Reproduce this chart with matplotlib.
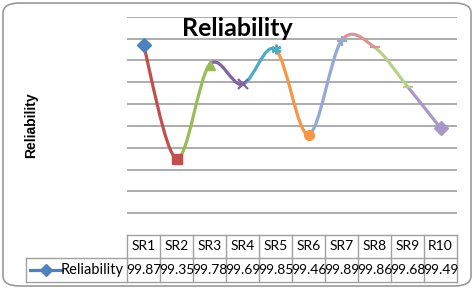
import matplotlib
matplotlib.use("Agg")
import matplotlib.pyplot as plt
from matplotlib.path import Path
from matplotlib.patches import PathPatch, FancyBboxPatch
from matplotlib.lines import Line2D

categories = ["SR1", "SR2", "SR3", "SR4", "SR5", "SR6", "SR7", "SR8", "SR9", "R10"]
reliability = [99.87, 99.35, 99.78, 99.69, 99.85, 99.46, 99.89, 99.86, 99.68, 99.49]
value_labels = ["99.87", "99.35", "99.78", "99.69", "99.85", "99.46", "99.89", "99.86", "99.68", "99.49"]

point_colors = ["#4F81BD", "#C0504D", "#9BBB59", "#8064A2", "#4BACC6",
                "#F79646", "#95A9D6", "#D99594", "#B9CF8C", "#A898C6"]
point_markers = ["D", "s", "^", "x", (6, 2, 0), "o", "+", "_", "_", "D"]

W, H = 474, 290


def fx(px):
    return px / W


def fy(py):
    return 1 - py / H


fig = plt.figure(figsize=(W / 100, H / 100), dpi=100)
fig.patch.set_facecolor("white")

# rounded chart border
fig.add_artist(FancyBboxPatch((fx(3), fy(286)), fx(468), 283 / H,
                              boxstyle="round,pad=0,rounding_size=0.035",
                              transform=fig.transFigure, facecolor="none",
                              edgecolor="#9A9A9A", linewidth=1.2))

left, right, top, bottom = 127, 457, 16.7, 235
ax = fig.add_axes([fx(left), fy(bottom), (right - left) / W, (bottom - top) / H])
ax.set_xlim(-0.5, len(categories) - 0.5)
ax.set_ylim(99.0, 100.0)
ax.axis("off")
for g in range(1, 11):
    ax.axhline(99.0 + g * 0.1, color="#A6A6A6", linewidth=1.3, zorder=1)

# smoothed line, one colour per segment (excel style)
n = len(reliability)
xs = list(range(n))
for i in range(n - 1):
    p0 = (xs[max(i - 1, 0)], reliability[max(i - 1, 0)])
    p1 = (xs[i], reliability[i])
    p2 = (xs[i + 1], reliability[i + 1])
    p3 = (xs[min(i + 2, n - 1)], reliability[min(i + 2, n - 1)])
    c1 = (p1[0] + (p2[0] - p0[0]) / 6, p1[1] + (p2[1] - p0[1]) / 6)
    c2 = (p2[0] - (p3[0] - p1[0]) / 6, p2[1] - (p3[1] - p1[1]) / 6)
    path = Path([p1, c1, c2, p2], [Path.MOVETO, Path.CURVE4, Path.CURVE4, Path.CURVE4])
    ax.add_patch(PathPatch(path, facecolor="none", edgecolor=point_colors[i + 1],
                           linewidth=2.3, capstyle="round", zorder=2))

for i in range(n):
    m = point_markers[i]
    ax.plot(xs[i], reliability[i], marker=m, markersize=7,
            color=point_colors[i], markeredgewidth=1.6 if m in ("x", "+", "_", (6, 2, 0)) else 1,
            zorder=3, clip_on=False)

fig.text(fx(237), fy(29), "Reliability", ha="center", va="center",
         fontfamily="Lato", fontweight="bold", fontsize=18, zorder=5)

fig.text(fx(31), fy(125), "Reliability", rotation=90, ha="center", va="center",
         fontfamily="Liberation Sans", fontweight="bold", fontsize=10)

# data table under the axis
grid_c = "#A0A0A0"
row1_top, row1_bot, row2_bot = 235, 258, 282
col_w = (right - left) / n


def hline(x0, x1, y):
    fig.add_artist(Line2D([fx(x0), fx(x1)], [fy(y), fy(y)], color=grid_c, linewidth=1.0))


def vline(x, y0, y1):
    fig.add_artist(Line2D([fx(x), fx(x)], [fy(y0), fy(y1)], color=grid_c, linewidth=1.0))


hline(left, right, row1_top)
hline(26, right, row1_bot)
hline(26, right, row2_bot)
vline(26, row1_bot, row2_bot)
for k in range(n + 1):
    vline(left + k * col_w, row1_top, row2_bot)

for k in range(n):
    cx = left + (k + 0.5) * col_w
    fig.text(fx(cx), fy((row1_top + row1_bot) / 2), categories[k], ha="center", va="center",
             fontfamily="Lato", fontsize=10)
    fig.text(fx(cx), fy((row1_bot + row2_bot) / 2), value_labels[k], ha="center", va="center",
             fontfamily="Lato", fontsize=10)

# legend key in the row header
fig.add_artist(Line2D([fx(30), fx(62)], [fy(270), fy(270)], color=point_colors[0],
                      linewidth=2.3))
fig.add_artist(Line2D([fx(46)], [fy(270)], color=point_colors[0], marker="D",
                      markersize=6, linestyle="none"))
fig.text(fx(124), fy(270), "Reliability", ha="right", va="center",
         fontfamily="Lato", fontsize=10.5)

fig.savefig("out.png", dpi=100)
